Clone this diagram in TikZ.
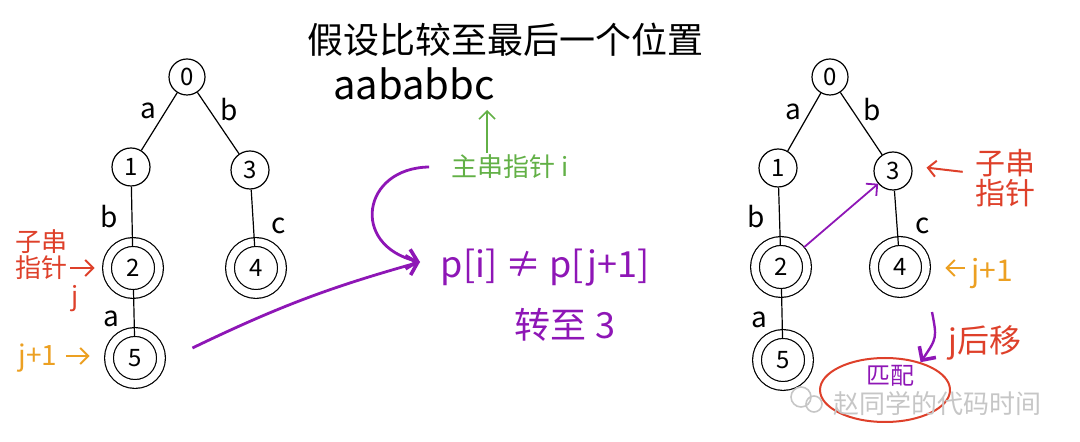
\documentclass[tikz,border=0pt]{standalone}
\usepackage{fontspec}
\setmainfont{Noto Sans CJK SC}
\usetikzlibrary{arrows.meta,positioning,shapes.geometric}
\definecolor{penred}{RGB}{222,64,42}
\definecolor{penorange}{RGB}{236,160,34}
\definecolor{pengreen}{RGB}{98,176,70}
\definecolor{penpurple}{RGB}{142,22,182}

\begin{document}
\begin{tikzpicture}[x=0.5pt,y=-0.5pt,
    state/.style={circle,draw,line width=0.6pt,minimum size=19pt,inner sep=0pt,font=\fontsize{12}{12}\selectfont},
    final/.style={state,double,double distance=3.8pt,minimum size=26pt,outer sep=-2.3pt},
    edge/.style={line width=0.6pt},
    lab/.style={font=\fontsize{14}{14}\selectfont,inner sep=1pt},
    hand/.style={font=\fontsize{#1}{#1}\selectfont,align=center,inner sep=1pt},
    barb/.style={line width=1pt,-{Straight Barb[length=4pt,width=8pt]}},
    fat/.style={line width=1.4pt,penpurple,-{Straight Barb[length=5pt,width=10pt,line width=1.8pt]}}]
  \useasboundingbox (0,0) rectangle (1080,442);

  % left trie
  \node[state,minimum size=18pt] (l0) at (187,77) {0};
  \node[state] (l1) at (131,167) {1};
  \node[state] (l3) at (250,170) {3};
  \node[final] (l2) at (133,268) {2};
  \node[final] (l4) at (256,268) {4};
  \node[final] (l5) at (135,358) {5};
  \draw[edge] (l0) -- (l1) node[lab,midway,above left] {a};
  \draw[edge] (l0) -- (l3) node[lab,midway,above right] {b};
  \draw[edge] (l1) -- (l2) node[lab,midway,left=6pt] {b};
  \draw[edge] (l3) -- (l4) node[lab,midway,right=8pt,yshift=-4pt] {c};
  \draw[edge] (l2) -- (l5) node[lab,midway,left=6pt,yshift=-3pt] {a};

  \node[hand=13,text=penred] (lptr) at (42,255) {子串\\指针};
  \node[hand=13,text=penred] (lj) at (75,299) {j};
  \draw[barb,penred,shorten >=8.5pt] (lptr.east |- l2.west) -- (l2.west);
  \node[hand=14,text=penorange] (ljp) at (38,358) {j+1};
  \draw[barb,penorange,shorten <=3pt,shorten >=12pt] ([yshift=1pt]ljp.east) -- ([yshift=1pt]ljp.east -| l5.west);

  % text in the middle
  \node[hand=18] (title) at (505,40) {假设比较至最后一个位置};
  \node[hand=20] (word) at (414,84) {aababbc};
  \coordinate (ctip) at (487,110);
  \node[hand=13,text=pengreen] (ptri) at (510,167) {主串指针 i};
  \draw[barb,pengreen,line width=0.8pt] (ctip |- ptri.north) -- (ctip);

  \node[hand=18,text=penpurple] (neq) at (545,268) {p[i] ≠ p[j+1]};
  \node[hand=18,text=penpurple] (goto) at (565,325) {转至 3};
  \coordinate (tip) at (420,262);
  \draw[fat] ([shift={(18pt,5pt)}]l5.east) to[bend left=5] (tip);
  \draw[fat] ([xshift=-10pt]ptri.west) .. controls (362,168) and (350,245) .. (tip);

  % right trie
  \node[state,minimum size=18pt] (r0) at (830,77) {0};
  \node[state] (r1) at (778,168) {1};
  \node[state] (r3) at (893,171) {3};
  \node[final] (r2) at (781,267) {2};
  \node[final] (r4) at (900,267) {4};
  \node[final] (r5) at (783,360) {5};
  \draw[edge] (r0) -- (r1) node[lab,midway,above left] {a};
  \draw[edge] (r0) -- (r3) node[lab,midway,above right] {b};
  \draw[edge] (r1) -- (r2) node[lab,midway,left=6pt] {b};
  \draw[edge] (r3) -- (r4) node[lab,midway,right=8pt,yshift=-4pt] {c};
  \draw[edge] (r2) -- (r5) node[lab,midway,left=6pt,yshift=-3pt] {a};
  \draw[penpurple,line width=0.9pt,shorten <=4.5pt,-{Straight Barb[length=4pt,width=8pt]}] (r2) -- (r3);

  \node[hand=15,text=penred] (rptr) at (1005,178) {子串\\指针};
  \draw[barb,penred,shorten <=5pt,shorten >=7pt] ([yshift=2.5pt]rptr.west) -- ([yshift=2.5pt]r3.east);
  \node[hand=15,text=penorange] (rjp) at (992,274) {j+1};
  \draw[barb,penorange,shorten <=2pt,shorten >=12pt] ([yshift=3pt]rjp.west) -- ([yshift=3pt]rjp.west -| r4.east);

  \node[hand=16,text=penred] (jmove) at (985,343) {j后移};
  \node[ellipse,draw=penred,line width=1pt,minimum width=65pt,minimum height=32pt] (match) at (885,390) {};
  \node[hand=12,text=penpurple] (matchtxt) at (890,376) {匹配};
  \coordinate (jdown) at (932,312);
  \draw[fat,line width=1.2pt] (jdown) .. controls (937,338) .. (match.38);

  % watermark
  \draw[gray!45,line width=0.8pt] (801,397) circle (5pt) (814,404) circle (4pt);
  \node[hand=13,text=gray!45] (wmark) at (937,404) {赵同学的代码时间};
\end{tikzpicture}
\end{document}
